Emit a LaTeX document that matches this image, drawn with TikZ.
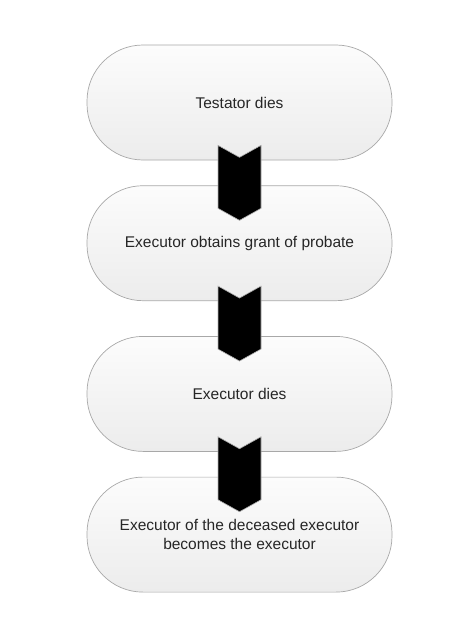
\documentclass[tikz,border=0pt]{standalone}
\usepackage{fontspec}
\setmainfont{Liberation Sans}
\usetikzlibrary{positioning,calc}
\definecolor{boxedge}{HTML}{A8A8A8}
\definecolor{boxtop}{HTML}{FCFCFC}
\definecolor{boxbot}{HTML}{ECECEC}
\tikzset{
  stepbox/.style={rectangle,rounded corners=56pt,draw=boxedge,line width=0.7pt,
    top color=boxtop,bottom color=boxbot,minimum width=305pt,minimum height=115pt,
    align=center,font=\fontsize{15.5}{19}\selectfont,text=black!85},
  chevron/.style={fill=black,draw=gray!60,line width=0.6pt,line join=miter}
}
\begin{document}
\begin{tikzpicture}
\useasboundingbox (0,0) rectangle (459pt,-642pt);
\node[stepbox] (b1) at (239.5pt,-102.5pt) {Testator dies};
\node[stepbox,below=25pt of b1] (b2) {Executor obtains grant of probate};
\node[stepbox,below=35pt of b2] (b3) {Executor dies};
\node[stepbox,below=25pt of b3] (b4) {Executor of the deceased executor\\becomes the executor};
\foreach \a in {b1,b2,b3}
  \draw[chevron] ($(\a.south)+(-21.5pt,15pt)$) -- ++(21.5pt,-12pt) -- ++(21.5pt,12pt)
    -- ++(0,-63pt) -- ++(-21.5pt,-12pt) -- ++(-21.5pt,12pt) -- cycle;
\end{tikzpicture}
\end{document}
